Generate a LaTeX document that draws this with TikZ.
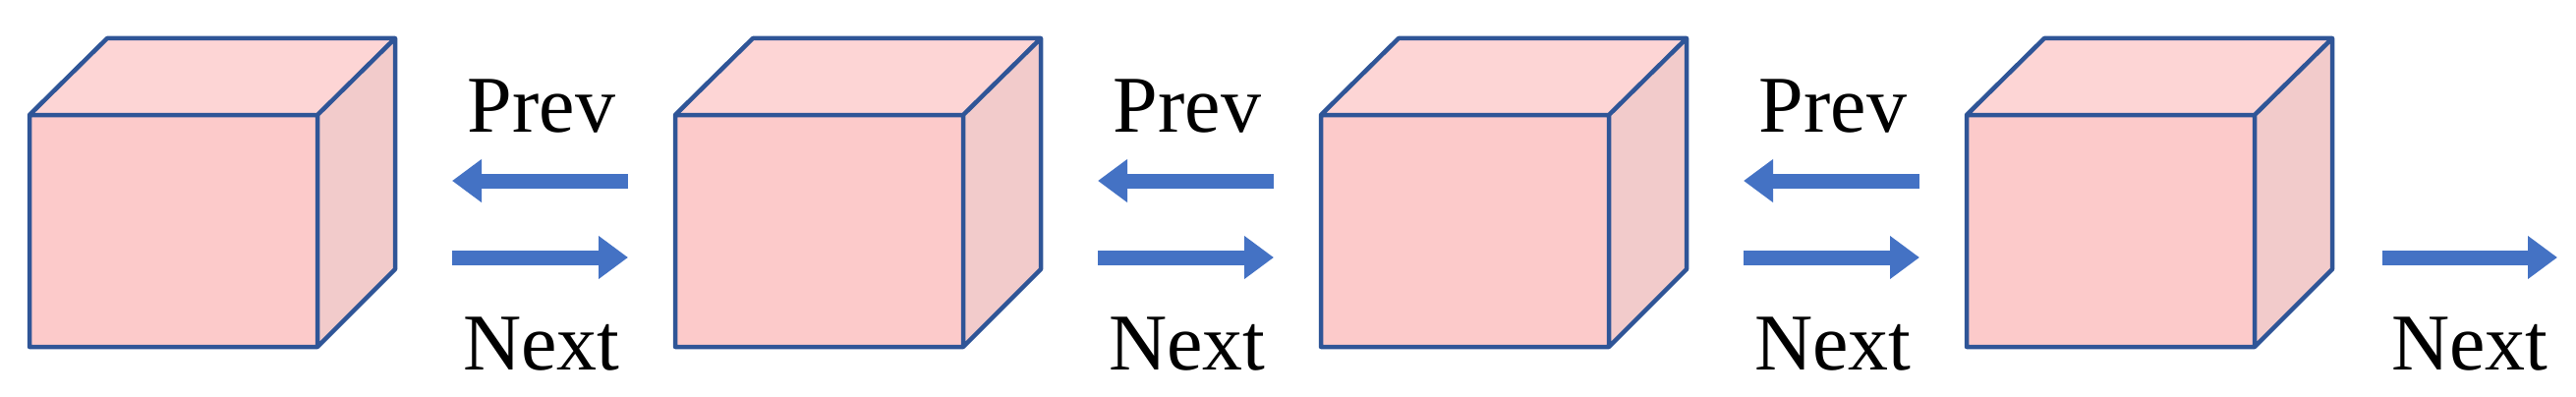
\documentclass[tikz,border=0pt]{standalone}
\usepackage{fontspec}
\setmainfont{Liberation Serif}
\usetikzlibrary{arrows.meta}
\definecolor{frontc}{HTML}{FCCACA}
\definecolor{topc}{HTML}{FDD5D5}
\definecolor{sidec}{HTML}{F2CBCB}
\definecolor{edgec}{HTML}{2F5597}
\definecolor{arrc}{HTML}{4472C4}
\tikzset{
  face/.style={draw=edgec, line width=4.5pt, line join=round},
  conn/.style={draw=arrc, line width=15pt, -{Triangle[length=30pt,width=42pt]}},
  lbl/.style={font=\fontsize{82}{82}\selectfont, inner sep=0pt}
}
\begin{document}
\begin{tikzpicture}[x=1pt,y=-1pt]
\useasboundingbox (0,0) rectangle (2621,404);
\foreach \i in {0,1,2,3}{
  \begin{scope}[xshift=\i*657]
    \fill[topc] (30,117) -- (109,39) -- (402,39) -- (323,117) -- cycle;
    \fill[sidec] (323,117) -- (402,39) -- (402,274) -- (323,353) -- cycle;
    \fill[frontc] (30,117) rectangle (323,353);
    \draw[face] (30,117) -- (109,39) -- (402,39) -- (402,274) -- (323,353) -- (30,353) -- cycle
                (30,117) -- (323,117) -- (323,353) (323,117) -- (402,39);
    \node[coordinate] (c\i) at (0,0) {};
  \end{scope}
}
\foreach \i in {0,1,2}{
  \begin{scope}[xshift=\i*657]
    \coordinate (pa\i) at (639,184);
    \coordinate (pb\i) at (460,184);
    \coordinate (na\i) at (460,262);
    \coordinate (nb\i) at (639,262);
    \draw[conn] (pa\i) -- (pb\i);
    \draw[conn] (na\i) -- (nb\i);
    \node[lbl] (prev\i) at (551,108) {Prev};
    \node[lbl] (next\i) at (551,350) {Next};
  \end{scope}
}
\coordinate (la) at (2424,262);
\coordinate (lb) at (2602,262);
\draw[conn] (la) -- (lb);
\node[lbl] (next3) at (2513,350) {Next};
\end{tikzpicture}
\end{document}
